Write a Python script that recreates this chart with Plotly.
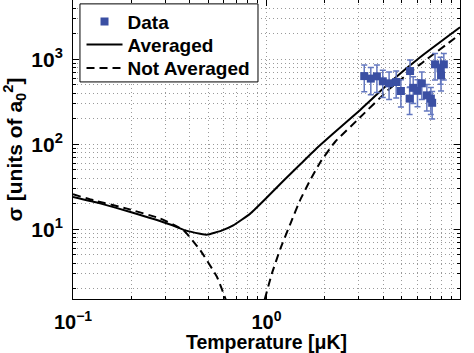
import plotly.graph_objects as go

# ---- data ----
temp_data = [3.20, 3.46, 3.72, 3.99, 4.30, 4.68, 4.95, 5.52, 5.49, 5.73, 6.03, 6.35, 6.74, 7.07, 7.18, 7.43, 7.94, 7.98, 8.25]
sigma_data = [635, 593, 631, 551, 522, 541, 424, 728, 345, 462, 426, 522, 377, 345, 308, 873, 783, 648, 873]
sigma_err = [220, 210, 225, 195, 185, 190, 150, 255, 120, 160, 150, 185, 130, 120, 110, 300, 275, 225, 300]

temp_avg = [0.1, 0.138, 0.198, 0.318, 0.380, 0.454, 0.494, 0.590, 0.673, 0.824, 1.01, 1.22, 1.50, 1.83, 2.19, 3.05, 4.35, 6.22, 10.0]
sigma_avg = [24.0, 20.2, 16.0, 11.4, 9.72, 8.89, 8.66, 9.72, 11.1, 15.3, 24.0, 37.0, 58.6, 91.0, 131, 254, 536, 1056, 2377]

temp_nonavg = [0.1, 0.128, 0.190, 0.282, 0.373, 0.455, 0.555, 0.600, 0.615, None,
               0.979, 1.066, 1.18, 1.33, 1.49, 1.68, 1.90, 2.27, 2.94, 4.35, 6.22, 10.0]
sigma_nonavg = [25.8, 21.9, 17.5, 13.4, 9.72, 5.66, 2.75, 1.75, 1.50, None,
                1.50, 3.01, 5.93, 11.7, 21.9, 37.7, 62.0, 108, 192, 456, 873, 1968]

x_tickvals = [0.1, 1, 10]
x_ticktext = ["10<sup>\u22121</sup>", "10<sup>0</sup>", "10<sup>1</sup>"]
y_tickvals = [10, 100, 1000]
y_ticktext = ["10<sup>1</sup>", "10<sup>2</sup>", "10<sup>3</sup>"]

x_minor = [m * 10.0 ** d for d in range(-1, 1) for m in range(2, 10)]
y_minor = [m * 10.0 ** d for d in range(0, 4) for m in range(2, 10)]

FONT = "Liberation Sans, Arial, Helvetica, sans-serif"
BLUE = "#3a4fa3"
ERR = "#6478c0"
GRID = "#9a9a9a"
GDASH = "1px,3px"

fig = go.Figure()

fig.add_trace(go.Scatter(
    x=temp_avg, y=sigma_avg, mode="lines", name="Averaged",
    line=dict(color="black", width=2, shape="spline", smoothing=0.4),
    legend="legend2",
))
fig.add_trace(go.Scatter(
    x=temp_nonavg, y=sigma_nonavg, mode="lines", name="Not Averaged",
    line=dict(color="black", width=2, dash="8px,5px", shape="spline", smoothing=0.4),
    connectgaps=False, legend="legend3",
))
fig.add_trace(go.Scatter(
    x=temp_data, y=sigma_data, mode="markers", name="Data",
    marker=dict(symbol="square", size=8, color=BLUE),
    error_y=dict(type="data", array=sigma_err, visible=True, color=ERR, thickness=1.5, width=3),
    legend="legend",
))

fig.update_xaxes(
    type="log", range=[-1, 1],
    tickmode="array", tickvals=x_tickvals, ticktext=x_ticktext,
    ticks="inside", ticklen=6, tickcolor="black",
    showline=True, linecolor="black", linewidth=1, mirror="ticks",
    showgrid=True, gridcolor=GRID, griddash=GDASH, gridwidth=1,
    minor=dict(tickmode="array", tickvals=x_minor, ticks="inside", ticklen=3,
               tickcolor="black", showgrid=True, gridcolor=GRID, griddash=GDASH, gridwidth=1),
    tickfont=dict(family=FONT, size=20, color="black", weight="bold"),
    ticklabelstandoff=5,
    title=dict(text="Temperature [\u03bcK]", font=dict(family=FONT, size=19.5, color="black", weight="bold"),
               standoff=3),
    zeroline=False,
)
fig.update_yaxes(
    type="log", range=[0.18, 3.698],
    tickmode="array", tickvals=y_tickvals, ticktext=y_ticktext,
    ticks="inside", ticklen=6, tickcolor="black",
    showline=True, linecolor="black", linewidth=1, mirror="ticks",
    showgrid=True, gridcolor=GRID, griddash=GDASH, gridwidth=1,
    minor=dict(tickmode="array", tickvals=y_minor, ticks="inside", ticklen=3,
               tickcolor="black", showgrid=True, gridcolor=GRID, griddash=GDASH, gridwidth=1),
    tickfont=dict(family=FONT, size=21, color="black", weight="bold"),
    ticklabelstandoff=5,
    title=dict(text="\u03c3 [units of a<sub>0</sub><sup>2</sup>]",
               font=dict(family=FONT, size=21, color="black", weight="bold"), standoff=6),
    zeroline=False,
)

legend_common = dict(
    xanchor="left", yanchor="middle", bgcolor="rgba(0,0,0,0)", borderwidth=0,
    font=dict(family=FONT, size=19, color="black", weight="bold"),
    itemwidth=36,
)
fig.update_layout(
    width=474, height=353,
    margin=dict(l=73, r=14, t=0, b=54),
    paper_bgcolor="white", plot_bgcolor="white",
    showlegend=True,
    legend=dict(x=0.022, y=0.928, **legend_common),
    legend2=dict(x=0.022, y=0.851, **legend_common),
    legend3=dict(x=0.022, y=0.772, **legend_common),
    shapes=[dict(type="rect", xref="paper", yref="paper",
                 x0=0.018, x1=0.478, y0=0.726, y1=0.987,
                 fillcolor="white", line=dict(color="black", width=1), layer="above")],
)

fig.write_html("out.html")
